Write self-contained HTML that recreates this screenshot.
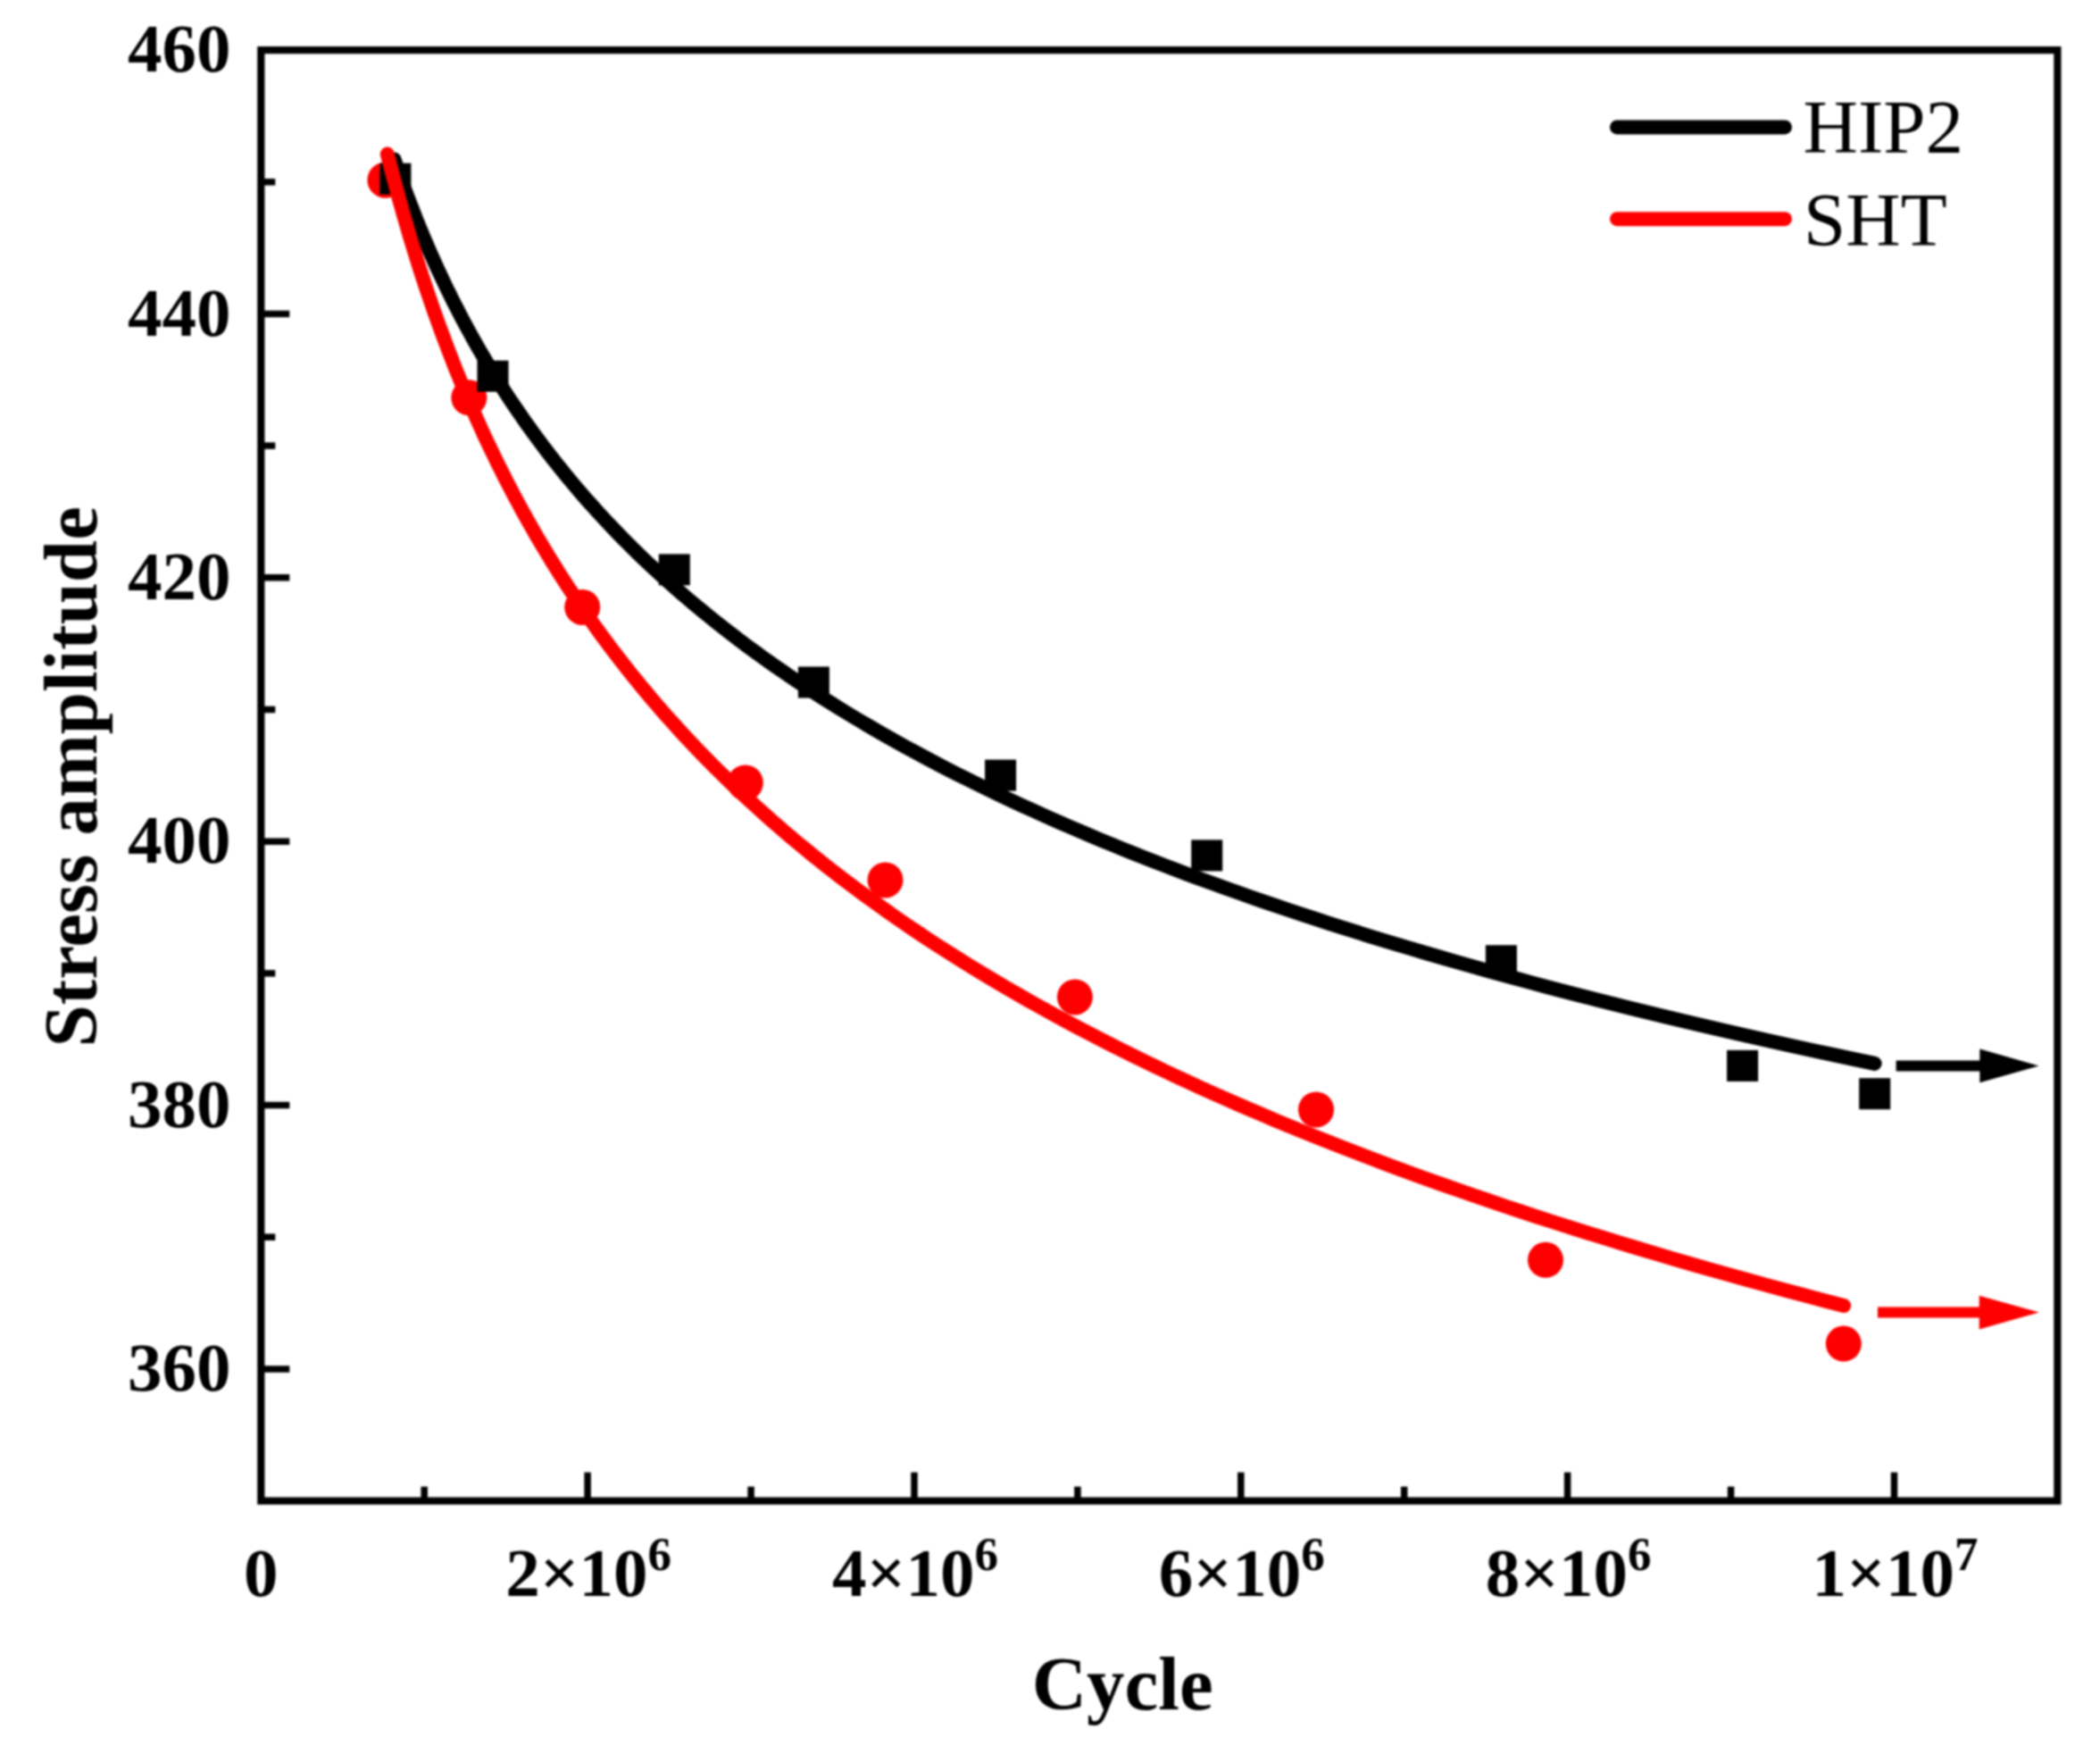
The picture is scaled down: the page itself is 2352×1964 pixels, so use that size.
<!DOCTYPE html>
<html lang="en"><head><meta charset="utf-8"><title>Stress amplitude vs Cycle</title>
<style>html,body{margin:0;padding:0;background:#fff;overflow:hidden}svg{display:block;filter:blur(1.3px)}text{font-family:"Liberation Serif",serif;fill:#000}.b{font-weight:bold}</style></head><body>
<svg width="2352" height="1964" viewBox="0 0 2352 1964">
<rect width="2352" height="1964" fill="#fff"/>
<g stroke="#000" stroke-width="7.5" fill="none">
<line x1="292.3" y1="1532.9" x2="324.3" y2="1532.9"/>
<line x1="292.3" y1="1385.2" x2="308.3" y2="1385.2"/>
<line x1="292.3" y1="1237.6" x2="324.3" y2="1237.6"/>
<line x1="292.3" y1="1089.9" x2="308.3" y2="1089.9"/>
<line x1="292.3" y1="942.2" x2="324.3" y2="942.2"/>
<line x1="292.3" y1="794.5" x2="308.3" y2="794.5"/>
<line x1="292.3" y1="646.8" x2="324.3" y2="646.8"/>
<line x1="292.3" y1="499.1" x2="308.3" y2="499.1"/>
<line x1="292.3" y1="351.5" x2="324.3" y2="351.5"/>
<line x1="292.3" y1="203.8" x2="308.3" y2="203.8"/>
<line x1="475.2" y1="1680.6" x2="475.2" y2="1664.6"/>
<line x1="658.1" y1="1680.6" x2="658.1" y2="1648.6"/>
<line x1="841.1" y1="1680.6" x2="841.1" y2="1664.6"/>
<line x1="1024.0" y1="1680.6" x2="1024.0" y2="1648.6"/>
<line x1="1206.9" y1="1680.6" x2="1206.9" y2="1664.6"/>
<line x1="1389.8" y1="1680.6" x2="1389.8" y2="1648.6"/>
<line x1="1572.7" y1="1680.6" x2="1572.7" y2="1664.6"/>
<line x1="1755.6" y1="1680.6" x2="1755.6" y2="1648.6"/>
<line x1="1938.6" y1="1680.6" x2="1938.6" y2="1664.6"/>
<line x1="2121.5" y1="1680.6" x2="2121.5" y2="1648.6"/>
</g>
<g fill="#f00">
<circle cx="431.4" cy="201.7" r="20"/>
<circle cx="525.3" cy="445.3" r="20"/>
<circle cx="652.2" cy="679.9" r="20"/>
<circle cx="834.8" cy="876.5" r="20"/>
<circle cx="991.5" cy="985.4" r="20"/>
<circle cx="1203.9" cy="1116.4" r="20"/>
<circle cx="1474.0" cy="1242.5" r="20"/>
<circle cx="1731.0" cy="1410.8" r="20"/>
<circle cx="2064.8" cy="1504.6" r="20"/>
</g><g fill="#000">
<rect x="425.4" y="182.7" width="35" height="35"/>
<rect x="534.5" y="403.7" width="35" height="35"/>
<rect x="737.8" y="620.4" width="35" height="35"/>
<rect x="893.9" y="746.5" width="35" height="35"/>
<rect x="1103.1" y="850.6" width="35" height="35"/>
<rect x="1334.2" y="940.4" width="35" height="35"/>
<rect x="1663.9" y="1058.3" width="35" height="35"/>
<rect x="1934.1" y="1175.9" width="35" height="35"/>
<rect x="2082.2" y="1207.2" width="35" height="35"/>
</g>
<path d="M441.5 178.4 L443.4 183.9 L445.3 189.4 L447.2 194.9 L449.1 200.3 L451.1 205.8 L453.1 211.2 L455.1 216.7 L457.2 222.1 L459.3 227.6 L461.4 233.0 L463.5 238.4 L465.6 243.9 L467.8 249.3 L470.0 254.7 L472.3 260.1 L474.5 265.6 L476.8 271.0 L479.2 276.4 L481.5 281.8 L483.9 287.2 L486.3 292.6 L488.7 298.0 L491.2 303.3 L493.7 308.7 L496.3 314.1 L498.8 319.5 L501.4 324.9 L504.1 330.2 L506.7 335.6 L509.4 340.9 L512.2 346.3 L514.9 351.6 L517.7 357.0 L520.6 362.3 L523.5 367.7 L526.4 373.0 L529.3 378.3 L532.3 383.7 L535.3 389.0 L538.4 394.3 L541.5 399.6 L544.6 404.9 L547.8 410.2 L551.0 415.5 L554.3 420.8 L557.6 426.1 L560.9 431.4 L564.3 436.7 L567.7 442.0 L571.2 447.3 L574.7 452.5 L578.3 457.8 L581.9 463.1 L585.5 468.3 L589.2 473.6 L593.0 478.8 L596.8 484.1 L600.6 489.3 L604.5 494.6 L608.4 499.8 L612.4 505.0 L616.5 510.3 L620.5 515.5 L624.7 520.7 L628.9 525.9 L633.1 531.2 L637.4 536.4 L641.8 541.6 L646.2 546.8 L650.6 552.0 L655.1 557.2 L659.7 562.4 L664.4 567.5 L669.0 572.7 L673.8 577.9 L678.6 583.1 L683.5 588.3 L688.4 593.4 L693.4 598.6 L698.5 603.8 L703.6 608.9 L708.8 614.1 L714.0 619.2 L719.4 624.4 L724.7 629.5 L730.2 634.6 L735.7 639.8 L741.3 644.9 L747.0 650.0 L752.7 655.1 L758.5 660.3 L764.4 665.4 L770.4 670.5 L776.4 675.6 L782.5 680.7 L788.7 685.8 L795.0 690.9 L801.3 696.0 L807.7 701.1 L814.2 706.1 L820.8 711.2 L827.5 716.3 L834.2 721.4 L841.1 726.4 L848.0 731.5 L855.0 736.6 L862.1 741.6 L869.3 746.7 L876.6 751.7 L883.9 756.8 L891.4 761.8 L899.0 766.8 L906.6 771.9 L914.4 776.9 L922.2 781.9 L930.2 786.9 L938.2 792.0 L946.4 797.0 L954.6 802.0 L963.0 807.0 L971.5 812.0 L980.0 817.0 L988.7 822.0 L997.5 827.0 L1006.4 832.0 L1015.4 837.0 L1024.6 841.9 L1033.8 846.9 L1043.2 851.9 L1052.6 856.9 L1062.2 861.8 L1072.0 866.8 L1081.8 871.7 L1091.8 876.7 L1101.9 881.6 L1112.1 886.6 L1122.4 891.5 L1132.9 896.5 L1143.5 901.4 L1154.3 906.3 L1165.2 911.3 L1176.2 916.2 L1187.3 921.1 L1198.6 926.0 L1210.1 930.9 L1221.7 935.9 L1233.4 940.8 L1245.3 945.7 L1257.3 950.6 L1269.5 955.5 L1281.8 960.4 L1294.3 965.2 L1307.0 970.1 L1319.8 975.0 L1332.8 979.9 L1345.9 984.8 L1359.2 989.6 L1372.7 994.5 L1386.3 999.3 L1400.1 1004.2 L1414.1 1009.1 L1428.3 1013.9 L1442.6 1018.8 L1457.2 1023.6 L1471.9 1028.4 L1486.8 1033.3 L1501.8 1038.1 L1517.1 1042.9 L1532.6 1047.8 L1548.2 1052.6 L1564.1 1057.4 L1580.2 1062.2 L1596.4 1067.0 L1612.9 1071.8 L1629.6 1076.6 L1646.5 1081.4 L1663.6 1086.2 L1680.9 1091.0 L1698.4 1095.8 L1716.2 1100.6 L1734.1 1105.4 L1752.4 1110.2 L1770.8 1114.9 L1789.5 1119.7 L1808.4 1124.5 L1827.5 1129.2 L1846.9 1134.0 L1866.5 1138.8 L1886.4 1143.5 L1906.6 1148.3 L1926.9 1153.0 L1947.6 1157.8 L1968.5 1162.5 L1989.7 1167.2 L2011.1 1172.0 L2032.8 1176.7 L2054.8 1181.4 L2077.1 1186.1 L2099.6 1190.9" fill="none" stroke="#000" stroke-width="16" stroke-linecap="round" stroke-linejoin="round"/>
<path d="M433.8 172.5 L435.6 179.7 L437.4 186.8 L439.3 194.0 L441.2 201.1 L443.1 208.3 L445.0 215.4 L446.9 222.6 L448.9 229.7 L450.9 236.8 L452.9 243.9 L455.0 251.0 L457.0 258.1 L459.1 265.2 L461.3 272.3 L463.4 279.3 L465.6 286.4 L467.8 293.5 L470.0 300.5 L472.3 307.6 L474.6 314.6 L476.9 321.6 L479.3 328.6 L481.7 335.6 L484.1 342.7 L486.5 349.7 L489.0 356.6 L491.5 363.6 L494.1 370.6 L496.7 377.6 L499.3 384.5 L501.9 391.5 L504.6 398.4 L507.3 405.4 L510.0 412.3 L512.8 419.2 L515.6 426.1 L518.5 433.1 L521.4 440.0 L524.3 446.9 L527.3 453.7 L530.3 460.6 L533.3 467.5 L536.4 474.4 L539.5 481.2 L542.6 488.1 L545.8 494.9 L549.1 501.8 L552.4 508.6 L555.7 515.4 L559.0 522.2 L562.5 529.0 L565.9 535.8 L569.4 542.6 L572.9 549.4 L576.5 556.2 L580.2 563.0 L583.8 569.8 L587.6 576.5 L591.3 583.3 L595.2 590.0 L599.0 596.7 L602.9 603.5 L606.9 610.2 L610.9 616.9 L615.0 623.6 L619.1 630.3 L623.3 637.0 L627.5 643.7 L631.8 650.4 L636.2 657.1 L640.6 663.7 L645.0 670.4 L649.5 677.1 L654.1 683.7 L658.7 690.3 L663.4 697.0 L668.1 703.6 L672.9 710.2 L677.8 716.8 L682.7 723.4 L687.7 730.0 L692.8 736.6 L697.9 743.2 L703.1 749.8 L708.3 756.4 L713.7 762.9 L719.0 769.5 L724.5 776.0 L730.0 782.6 L735.6 789.1 L741.3 795.7 L747.0 802.2 L752.9 808.7 L758.7 815.2 L764.7 821.7 L770.8 828.2 L776.9 834.7 L783.1 841.2 L789.3 847.6 L795.7 854.1 L802.1 860.6 L808.7 867.0 L815.3 873.5 L822.0 879.9 L828.7 886.4 L835.6 892.8 L842.5 899.2 L849.6 905.6 L856.7 912.0 L863.9 918.4 L871.2 924.8 L878.6 931.2 L886.1 937.6 L893.7 944.0 L901.4 950.3 L909.2 956.7 L917.1 963.0 L925.1 969.4 L933.2 975.7 L941.4 982.1 L949.7 988.4 L958.1 994.7 L966.6 1001.0 L975.3 1007.3 L984.0 1013.6 L992.9 1019.9 L1001.8 1026.2 L1010.9 1032.5 L1020.1 1038.8 L1029.4 1045.0 L1038.8 1051.3 L1048.4 1057.6 L1058.1 1063.8 L1067.9 1070.0 L1077.8 1076.3 L1087.8 1082.5 L1098.0 1088.7 L1108.3 1094.9 L1118.8 1101.2 L1129.4 1107.4 L1140.1 1113.5 L1150.9 1119.7 L1161.9 1125.9 L1173.0 1132.1 L1184.3 1138.3 L1195.7 1144.4 L1207.3 1150.6 L1219.0 1156.7 L1230.9 1162.9 L1242.9 1169.0 L1255.0 1175.2 L1267.4 1181.3 L1279.8 1187.4 L1292.5 1193.5 L1305.3 1199.6 L1318.2 1205.7 L1331.4 1211.8 L1344.7 1217.9 L1358.1 1224.0 L1371.8 1230.0 L1385.6 1236.1 L1399.6 1242.2 L1413.8 1248.2 L1428.1 1254.3 L1442.7 1260.3 L1457.4 1266.4 L1472.3 1272.4 L1487.4 1278.4 L1502.7 1284.4 L1518.2 1290.4 L1533.9 1296.4 L1549.8 1302.4 L1565.9 1308.4 L1582.2 1314.4 L1598.7 1320.4 L1615.4 1326.4 L1632.3 1332.3 L1649.5 1338.3 L1666.9 1344.2 L1684.5 1350.2 L1702.3 1356.1 L1720.3 1362.1 L1738.6 1368.0 L1757.1 1373.9 L1775.9 1379.8 L1794.9 1385.7 L1814.1 1391.6 L1833.6 1397.5 L1853.3 1403.4 L1873.3 1409.3 L1893.6 1415.2 L1914.1 1421.1 L1934.8 1426.9 L1955.8 1432.8 L1977.1 1438.6 L1998.7 1444.5 L2020.6 1450.3 L2042.7 1456.2 L2065.1 1462.0" fill="none" stroke="#f00" stroke-width="16" stroke-linecap="round" stroke-linejoin="round"/>
<path d="M2123.6 1193.4H2220" stroke="#000" stroke-width="12" fill="none"/><path d="M2217.3 1174.6L2283.5 1193.4L2217.3 1212.2Z" fill="#000"/>
<path d="M2103 1469.6H2220" stroke="#f00" stroke-width="12" fill="none"/><path d="M2216.7 1450.7L2283.8 1469.6L2216.7 1488.4Z" fill="#f00"/>
<rect x="292.3" y="56.1" width="2012.1" height="1624.5" fill="none" stroke="#000" stroke-width="8.2"/>
<path d="M1811 142.4H1999" stroke="#000" stroke-width="16" stroke-linecap="round"/>
<path d="M1811 245.2H1999" stroke="#f00" stroke-width="16" stroke-linecap="round"/>
<text x="2019.5" y="171.2" font-size="85">HIP2</text>
<text x="2020" y="275.3" font-size="85">SHT</text>
<text class="b" x="258.5" y="1556.9" font-size="77" text-anchor="end">360</text>
<text class="b" x="258.5" y="1261.6" font-size="77" text-anchor="end">380</text>
<text class="b" x="258.5" y="966.2" font-size="77" text-anchor="end">400</text>
<text class="b" x="258.5" y="670.8" font-size="77" text-anchor="end">420</text>
<text class="b" x="258.5" y="375.5" font-size="77" text-anchor="end">440</text>
<text class="b" x="258.5" y="80.1" font-size="77" text-anchor="end">460</text>
<text class="b" x="292.3" y="1787" font-size="77" text-anchor="middle">0</text>
<text class="b" x="659.1" y="1787" font-size="77" text-anchor="middle">2×10<tspan font-size="53" dy="-29.5">6</tspan></text>
<text class="b" x="1025.0" y="1787" font-size="77" text-anchor="middle">4×10<tspan font-size="53" dy="-29.5">6</tspan></text>
<text class="b" x="1390.8" y="1787" font-size="77" text-anchor="middle">6×10<tspan font-size="53" dy="-29.5">6</tspan></text>
<text class="b" x="1756.6" y="1787" font-size="77" text-anchor="middle">8×10<tspan font-size="53" dy="-29.5">6</tspan></text>
<text class="b" x="2122.5" y="1787" font-size="77" text-anchor="middle">1×10<tspan font-size="53" dy="-29.5">7</tspan></text>
<text class="b" x="1257.2" y="1914.2" font-size="85" text-anchor="middle">Cycle</text>
<text class="b" transform="translate(107.5 869.8) rotate(-90)" font-size="85" text-anchor="middle">Stress amplitude</text>
</svg></body></html>
